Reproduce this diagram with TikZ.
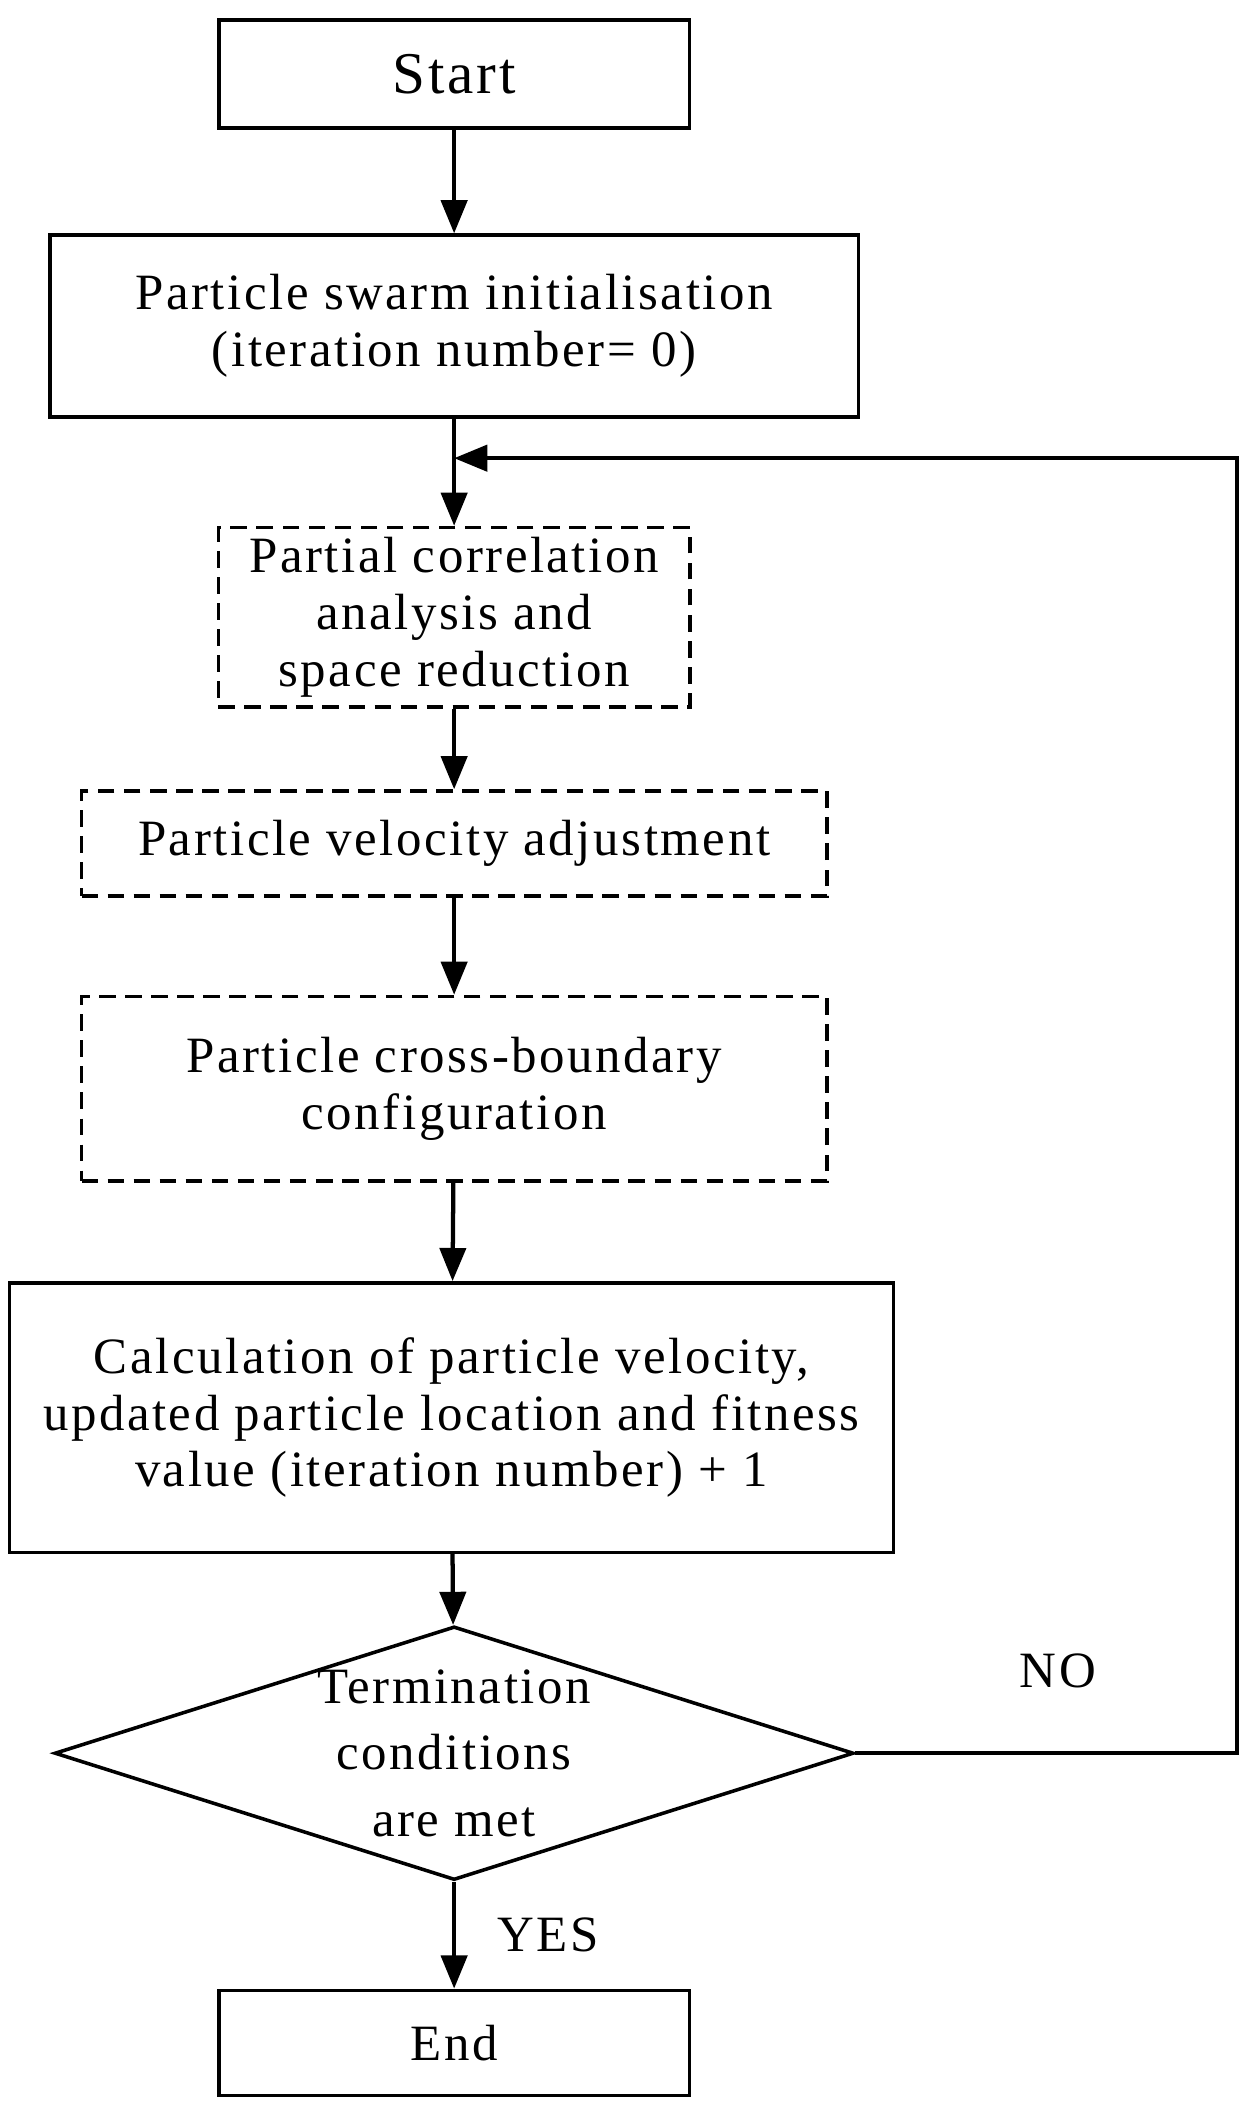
\documentclass[tikz,border=0pt]{standalone}
\usepackage{fontspec}
\setmainfont{Liberation Serif}[LetterSpace=5]
\usetikzlibrary{arrows.meta,shapes.geometric}
\begin{document}
\begin{tikzpicture}[x=0.02cm,y=-0.02cm,
  txt/.style={font=\fontsize{21.5}{24}\selectfont},
  box/.style={draw,line width=1.5pt,align=center,inner sep=0pt,txt},
  dbox/.style={box,dash pattern=on 7pt off 4pt},
  arr/.style={line width=1.8pt,-{Triangle[length=14pt,width=11pt]}}]
\useasboundingbox (0,0) rectangle (932,1568);
\node[box,minimum width=349*0.02cm,minimum height=80*0.02cm,font=\fontsize{25}{28}\selectfont] (start) at (337,55) {Start};
\node[box,minimum width=600*0.02cm,minimum height=135*0.02cm] (init) at (337,242) {Particle swarm initialisation\\(iteration number= 0)};
\node[dbox,minimum width=350*0.02cm,minimum height=133*0.02cm] (pc) at (337,458) {Partial correlation\\analysis and\\space reduction};
\node[dbox,minimum width=553*0.02cm,minimum height=78*0.02cm] (va) at (337,626) {Particle velocity adjustment};
\node[dbox,minimum width=553*0.02cm,minimum height=137*0.02cm] (cb) at (337,808) {Particle cross-boundary\\configuration};
\node[box,minimum width=656*0.02cm,minimum height=200*0.02cm] (calc) at (335,1052) {Calculation of particle velocity,\\updated particle location and fitness\\value (iteration number) + 1};
\node[draw,line width=1.5pt,diamond,aspect=3.15,inner sep=0pt,minimum width=593*0.02cm,minimum height=188*0.02cm,align=center,font=\fontsize{21.5}{28}\selectfont] (dec) at (337,1301) {Termination\\conditions\\are met};
\node[box,minimum width=349*0.02cm,minimum height=78*0.02cm] (end) at (337,1516) {End};
\coordinate (lp) at (337,340);
\draw[arr] (start) -- (init);
\draw[line width=1.8pt] (init) -- (lp);
\draw[arr] (lp) -- (pc);
\draw[arr] (pc) -- (va);
\draw[arr] (va) -- (cb);
\draw[arr] (cb) -- (calc);
\draw[arr] (calc) -- (dec);
\draw[arr] (dec) -- node[right=14pt,txt]{YES} (end);
\draw[arr] (dec.east) -- (918,1301) -- (918,340) -- (lp);
\node[txt] (no) at (785,1240) {NO};
\end{tikzpicture}
\end{document}
